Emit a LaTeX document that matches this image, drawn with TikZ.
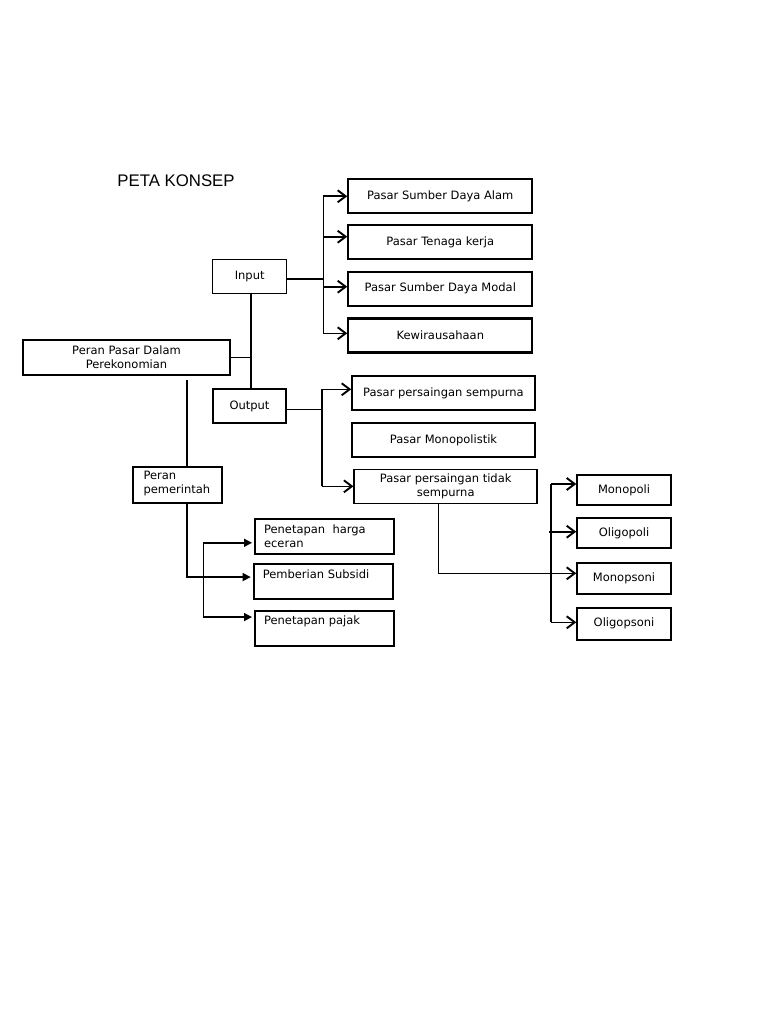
\documentclass[tikz,border=0pt]{standalone}
\usepackage{fontspec}
\setmainfont{DejaVu Sans}
\newfontfamily\titlefont{Liberation Sans}
\usetikzlibrary{arrows.meta,calc}
\newcommand{\topleft}[5]{\parbox[c][#2][t]{#1}{\raggedright\leftskip=#3\relax\vspace*{#4}\strut#5\par}}
\begin{document}
\begin{tikzpicture}[x=1pt,y=-1pt,
  font=\fontsize{11.5}{14}\selectfont,
  box/.style={draw, line width=1.5pt, inner sep=0pt, align=center},
  tbox/.style={box, line width=2.1pt},
  con/.style={line width=1.6pt},
  oarr/.style={con, -{Straight Barb[length=8pt,width=12pt,line width=1.9pt]}},
  farr/.style={con, -{Triangle[length=8pt,width=8pt]}, shorten >=2pt},
]
\useasboundingbox (0,0) rectangle (768,1024);
\fill[white] (0,0) rectangle (768,1024);

\node[font=\titlefont\fontsize{16.8}{19}\selectfont] (title) at (176,181) {PETA KONSEP};

% input side
\node[tbox, minimum width=184pt, minimum height=34pt] (alam) at (440.3,196.3) {Pasar Sumber Daya Alam};
\node[tbox, minimum width=184pt, minimum height=34pt] (tenaga) at (440.3,242.2) {Pasar Tenaga kerja};
\node[tbox, minimum width=184pt, minimum height=34pt] (modal) at (440.3,288.8) {Pasar Sumber Daya Modal};
\node[tbox, minimum width=184pt, minimum height=34pt] (kewira) at (440.3,335.5) {Kewirausahaan};
\node[box, minimum width=74pt, minimum height=34pt] (input) at (249.7,276.3) {Input};
\node[box, minimum width=207pt, minimum height=35pt] (peran) at (126.5,357.5) {Peran Pasar Dalam\\Perekonomian};
\node[box, minimum width=73pt, minimum height=34pt] (output) at (249.5,406) {Output};

% output side
\node[box, minimum width=183pt, minimum height=34pt] (sempurna) at (443.5,393) {Pasar persaingan sempurna};
\node[box, minimum width=183pt, minimum height=34pt] (monopolistik) at (443.5,440) {Pasar Monopolistik};
\node[box, minimum width=183pt, minimum height=34pt] (tidak) at (445.7,486.3) {Pasar persaingan tidak\\sempurna};

% government
\node[tbox, anchor=north west] (pemerintah) at (131.5,466) {\topleft{89pt}{36pt}{11pt}{3pt}{Peran\\pemerintah}};
\node[tbox, anchor=north west] (harga) at (254,518) {\topleft{139pt}{34.7pt}{9pt}{5pt}{Penetapan\ \ harga\\eceran}};
\node[tbox, anchor=north west] (subsidi) at (252.7,563.3) {\topleft{139.3pt}{35pt}{9pt}{4pt}{Pemberian Subsidi}};
\node[tbox, anchor=north west] (pajak) at (254,610) {\topleft{139pt}{35pt}{9pt}{4pt}{Penetapan pajak}};

% market structures
\node[tbox, minimum width=93.4pt, minimum height=30pt] (monopoli) at (624,490) {Monopoli};
\node[tbox, minimum width=93.4pt, minimum height=30pt] (oligopoli) at (624,533.3) {Oligopoli};
\node[tbox, minimum width=93.4pt, minimum height=31.3pt] (monopsoni) at (624,578.3) {Monopsoni};
\node[tbox, minimum width=93.4pt, minimum height=32.3pt] (oligopsoni) at (624,623.8) {Oligopsoni};

% ---- connectors: input
\coordinate (jI) at (323.3,279);
\coordinate (aA) at (alam.west);
\coordinate (tA) at ([yshift=5.5pt]tenaga.west);
\coordinate (mA) at ([yshift=2.1pt]modal.west);
\coordinate (kA) at ([yshift=2.2pt]kewira.west);
\draw[con] (input.east |- jI) -- (jI);
\draw[con] (jI |- aA) -- (jI |- kA);
\draw[oarr] (jI |- aA) -- (aA);
\draw[oarr] (jI |- tA) -- (tA);
\draw[oarr] (jI |- mA) -- (mA);
\draw[oarr] (jI |- kA) -- (kA);

% input - output - peran
\coordinate (vIO) at (251,0);
\draw[con] (vIO |- input.south) -- (vIO |- output.north);
\draw[con] (peran.east) -- (vIO |- peran.east);

% ---- connectors: output
\coordinate (jO) at (321.7,409.3);
\coordinate (sA) at ([yshift=3.7pt]sempurna.west);
\coordinate (tdA) at (tidak.west);
\draw[con] (output.east |- jO) -- (jO);
\draw[con] (jO |- sA) -- (jO |- tdA);
\draw[oarr] (jO |- sA) -- (sA);
\draw[oarr] (jO |- tdA) -- (tdA);

% ---- connectors: government
\coordinate (vP) at (187,0);
\draw[con, shorten <=4pt] (vP |- peran.south) -- (vP |- pemerintah.north);
\coordinate (sbA) at ([yshift=4.8pt]subsidi.west);
\draw[farr] (vP |- pemerintah.south) |- (sbA);
\coordinate (vG) at (203.3,0);
\coordinate (hA) at ([yshift=-6.4pt]harga.west);
\coordinate (pjA) at ([yshift=11.5pt]pajak.west);
\draw[farr] (vG |- pjA) -- (vG |- hA) -- (hA);
\draw[farr] (vG |- pjA) -- (pjA);

% ---- connectors: market structures
\coordinate (vT) at (438.3,0);
\coordinate (msA) at ([yshift=5pt]monopsoni.west);
\draw[oarr] (vT |- tidak.south) |- (msA);
\coordinate (vR) at (551,0);
\coordinate (mpA) at ([yshift=6pt]monopoli.west);
\coordinate (olA) at ([yshift=1.6pt]oligopoli.west);
\coordinate (osA) at ([yshift=1.5pt]oligopsoni.west);
\draw[con] (vR |- mpA) -- (vR |- osA);
\draw[oarr] (vR |- mpA) -- (mpA);
\draw[oarr] ([xshift=-2pt]vR |- olA) -- (olA);
\draw[oarr] (vR |- osA) -- (osA);
\end{tikzpicture}
\end{document}
